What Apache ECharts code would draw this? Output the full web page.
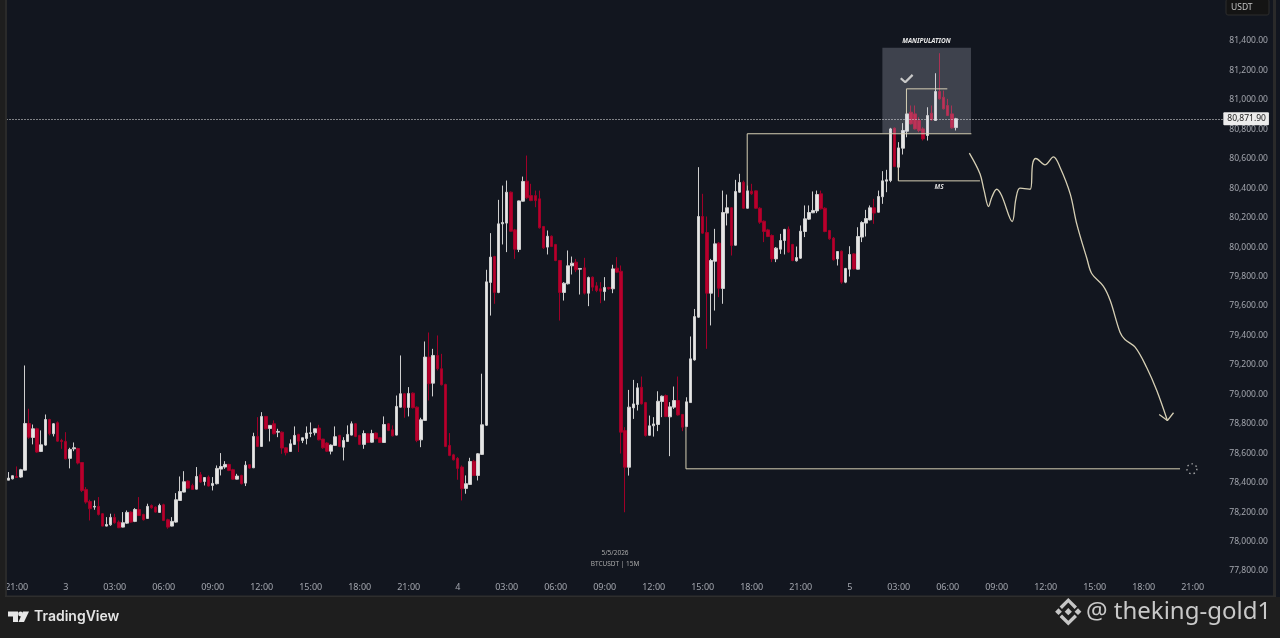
<!DOCTYPE html>
<html><head><meta charset="utf-8">
<style>html,body{margin:0;padding:0;background:#1e1e1e}#c{width:1280px;height:638px}</style>
<script src="https://cdn.jsdelivr.net/npm/echarts@6/dist/echarts.min.js"></script>
</head><body><div id="c"></div>
<script>
const opens=[78417,78426,78442,78438,78485,78802,78707,78766,78612,78655,
78829,78732,78807,78687,78680,78565,78630,78632,78537,78354,
78272,78234,78239,78189,78105,78114,78164,78132,78098,78125,
78200,78137,78218,78184,78157,78245,78234,78198,78250,78148,
78105,78132,78279,78336,78411,78381,78356,78454,78408,78438,
78381,78393,78492,78506,78524,78488,78424,78449,78397,78522,
78501,78714,78646,78850,78768,78800,78743,78743,78637,78612,
78660,78728,78687,78700,78734,78739,78771,78696,78669,78614,
78653,78721,78641,78680,78723,78800,78721,78660,78732,78675,
78737,78705,78673,78800,78759,78723,78913,79004,78911,79008,
78913,78691,78823,79253,79076,79264,79174,79067,78653,78589,
78565,78506,78361,78388,78546,78449,78592,78790,79760,79936,
79692,80158,80163,80373,80117,79984,80312,80448,80350,80350,
80328,80140,80000,80074,80018,79909,79692,79751,79873,79898,
79850,79859,79687,79796,79737,79717,79698,79726,79717,79857,
79836,78754,78505,78908,78931,79048,78944,78722,78786,78795,
78951,78992,78847,78913,78958,78863,78781,78944,79234,79524,
80208,80099,79687,79904,80027,79719,80231,80267,80013,80373,
80441,80264,80380,80382,80264,80176,80117,80079,79920,79986,
80045,80122,80018,79907,79925,80106,80190,80233,80246,80362,
80264,80113,80061,79920,79972,79762,79850,79954,79850,80068,
80163,80185,80267,80237,80342,80448,80452,80808,80543,80672,
80787,80916,80905,80860,80803,80758,80910,80860,81057,81018,
80962,80905,80812];
const closes=[78431,78447,78435,78488,78802,78709,78766,78608,78657,78829,
78732,78800,78682,78680,78562,78626,78637,78533,78347,78268,
78223,78239,78184,78105,78116,78164,78128,78094,78128,78198,
78132,78218,78177,78148,78239,78229,78200,78245,78143,78098,
78137,78284,78340,78406,78363,78354,78442,78404,78435,78377,
78395,78497,78510,78524,78483,78424,78445,78393,78519,78499,
78714,78646,78850,78766,78789,78732,78748,78635,78603,78664,
78721,78682,78705,78737,78739,78766,78691,78637,78614,78655,
78712,78646,78687,78728,78800,78714,78660,78734,78673,78734,
78698,78673,78795,78755,78718,78918,79004,78909,79006,78909,
78687,78827,79253,79072,79264,79174,79065,78646,78585,78555,
78497,78359,78393,78544,78449,78596,78793,79764,79932,79692,
80158,80167,80373,80108,79986,80314,80446,80335,80316,80316,
80131,79995,80074,80004,79909,79692,79755,79873,79891,79846,
79855,79687,79793,79728,79705,79701,79726,79717,79852,79830,
78743,78505,78913,78935,79044,78935,78720,78786,78799,78953,
78987,78849,78915,78958,78860,78777,78949,79241,79528,80208,
80095,79687,79909,80022,79721,80235,80267,80011,80378,80439,
80264,80382,80362,80264,80169,80106,80072,79920,79993,80045,
80120,79966,79909,79929,80108,80192,80235,80249,80357,80260,
80106,80056,79914,79970,79762,79855,79950,79852,80072,80167,
80194,80267,80231,80344,80450,80457,80803,80547,80674,80792,
80905,80837,80803,80792,80735,80894,80864,81057,81007,80939,
80894,80810,80871.9];
const lows=[78417,78422,78435,78433,78483,78698,78660,78603,78608,78651,
78721,78714,78678,78630,78558,78497,78614,78524,78336,78257,
78143,78216,78177,78103,78103,78107,78121,78091,78096,78121,
78128,78132,78173,78143,78155,78223,78196,78196,78139,78087,
78103,78128,78277,78334,78359,78352,78354,78399,78381,78374,
78347,78388,78449,78494,78478,78420,78422,78388,78377,78494,
78499,78641,78646,78761,78680,78728,78709,78596,78585,78608,
78657,78608,78669,78660,78709,78721,78687,78630,78608,78592,
78651,78641,78551,78678,78721,78709,78655,78630,78669,78671,
78694,78669,78671,78750,78714,78721,78911,78841,78850,78904,
78675,78641,78820,78958,78986,79162,79060,78641,78580,78551,
78420,78279,78325,78386,78445,78415,78589,78785,79535,79615,
79687,80018,79966,80104,79920,79966,80310,80328,80312,80271,
80126,79988,79950,80000,79904,79501,79637,79746,79814,79830,
79678,79678,79599,79701,79694,79619,79637,79710,79687,79825,
78598,78199,78448,78833,78890,78931,78713,78720,78713,78750,
78845,78845,78580,78901,78856,78750,78777,78942,79229,79520,
80090,79309,79468,79569,79660,79615,80147,79943,80011,80369,
80260,80262,80355,80260,80158,80034,80068,79898,79898,79954,
79950,79961,79904,79902,79920,80068,80185,80231,80231,80255,
80101,80050,79909,79875,79751,79755,79800,79848,79848,80034,
80072,80181,80158,80235,80294,80373,80441,80543,80452,80629,
80746,80833,80799,80780,80724,80724,80860,80858,81002,80935,
80890,80805,80792];
const highs=[78472,78449,78510,78494,79196,78902,78795,78773,78755,78863,
78834,78805,78816,78698,78743,78637,78673,78637,78540,78370,
78284,78279,78302,78193,78166,78189,78189,78143,78200,78211,
78205,78227,78302,78189,78257,78252,78239,78257,78257,78155,
78166,78329,78442,78478,78415,78393,78506,78472,78438,78449,
78438,78517,78601,78546,78528,78494,78460,78454,78546,78524,
78739,78845,78879,78850,78789,78823,78766,78748,78641,78694,
78782,78732,78705,78782,78809,78766,78793,78698,78675,78660,
78782,78725,78709,78789,78816,78805,78725,78755,78737,78759,
78741,78709,78850,78805,78789,78992,79264,79008,79049,79013,
78918,78841,79359,79420,79309,79400,79275,79072,78737,78596,
78574,78517,78449,78569,78555,78601,79140,79846,80095,79941,
80321,80418,80452,80378,80124,80316,80479,80622,80430,80384,
80384,80144,80113,80079,80022,79913,79762,79977,79936,79920,
79857,79927,79800,79800,79762,79762,79796,79730,79880,79932,
79875,78777,79030,79098,79076,79121,78949,78856,78845,79021,
78992,78999,78947,79053,79121,78867,78980,79393,79580,80543,
80362,80208,79920,80124,80034,80384,80357,80271,80457,80498,
80452,80418,80430,80384,80271,80181,80124,80086,80000,80090,
80124,80140,80022,80004,80147,80283,80283,80378,80384,80384,
80271,80117,80068,79972,79977,79859,80006,79959,80135,80176,
80253,80283,80328,80384,80516,80525,80810,80812,80713,80842,
80928,80962,80962,80882,80814,80950,80962,81181,81317,81063,
81007,80962,80878];
const xTickLabels=['21:00','3','03:00','06:00','09:00','12:00','15:00','18:00','21:00','4','03:00','06:00','09:00','12:00','15:00','18:00','21:00','5','03:00','06:00','09:00','12:00','15:00','18:00','21:00'];
const lastPrice=80871.9;
// hand-drawn forecast path: [bar slot, price]
const forecastPath=[[235.3,80638],[237.9,80498],[238.9,80385],[240.0,80276],[240.8,80339],[242.0,80393],[243.2,80351],[245.8,80174],[246.7,80328],[247.7,80400],[250.2,80393],[250.8,80566],[251.6,80602],[253.8,80559],[255.9,80613],[257.5,80543],[260.0,80362],[261.6,80158],[264.1,79921],[265.3,79819],[268.1,79735],[269.8,79637],[272.2,79422],[273.4,79373],[275.9,79320],[278.7,79184],[281.2,79026],[283.8,78822]];
const arrowHead=[[281.8,78863],[283.8,78822],[285.3,78875]];
const targetLine=[[165.9,78777],[165.9,78494],[286.9,78494]];
const breakLine=[[180.9,80385],[180.9,80770],[235.8,80770]];
const msLine=[[217.9,80568],[217.9,80450],[237.9,80450]];
const innerLine=[[219.9,80908],[219.9,81075],[229.9,81075]];
const checkMark=[[218.5,81147],[219.6,81120],[221.4,81170]];
const boxArea=[[214,81354],[235.7,80774]];
const targetDot=[[289.8,78494]];

const SLOTS=298;
const categories=[];
for(let i=0;i<SLOTS;i++){const k=(i-2)/12;categories.push(Number.isInteger(k)&&xTickLabels[k]?xTickLabels[k]:'');}
const candles=opens.map((o,i)=>[o,closes[i],lows[i],highs[i]]);

const INK='#d6cfb4';
function overlay(data,extra){return Object.assign({type:'line',xAxisIndex:1,yAxisIndex:0,data,symbol:'none',silent:true,animation:false,z:6,lineStyle:{color:INK,width:1}},extra||{});}
function poly(points,fill){return {type:'polygon',z:102,shape:{points},style:{fill:fill||'#c6c6c6'}};}
function diamond(cx,cy,r){return poly([[cx,cy-r],[cx+r,cy],[cx,cy+r],[cx-r,cy]]);}

const chart=echarts.init(document.getElementById('c'),null,{renderer:'canvas'});
chart.setOption({
 animation:false,
 backgroundColor:'#12161f',
 grid:{left:6.5,width:1216.83,top:11.56,height:588.88,containLabel:false},
 xAxis:[
  {type:'category',data:categories,boundaryGap:true,axisLine:{show:false},axisTick:{show:false},splitLine:{show:false},
   axisLabel:{inside:true,margin:8.5,interval:(i)=>(i-2)%12===0,color:'#a3a6ae',fontSize:9,fontFamily:'"Noto Sans",sans-serif',hideOverlap:false,showMinLabel:true,showMaxLabel:true}},
  {type:'value',min:-0.5,max:SLOTS-0.5,show:false,splitLine:{show:false}}
 ],
 yAxis:[{type:'value',position:'right',min:77600,max:81600,interval:200,scale:true,axisLine:{show:false},axisTick:{show:false},splitLine:{show:false},
   axisLabel:{margin:6,padding:[1,0,0,0],color:'#a3a6ae',fontSize:8.5,fontFamily:'"Noto Sans",sans-serif',
    formatter:v=>(v<=77600||v>=81600)?'':v.toLocaleString('en-US',{minimumFractionDigits:2,maximumFractionDigits:2})}}],
 series:[
  {type:'candlestick',data:candles,barWidth:3,large:false,progressive:0,z:2,silent:true,
   itemStyle:{color:'#e6e6e6',color0:'#b8002c',borderColor:'#cfcfcf',borderColor0:'#a00028',borderWidth:1},
   markLine:{silent:true,symbol:'none',animation:false,z:4,
    lineStyle:{color:'#ececec',type:[1,2],width:1},
    label:{show:true,position:'end',distance:0,formatter:lastPrice.toLocaleString('en-US',{minimumFractionDigits:2}),color:'#1a1a1a',backgroundColor:'#ececec',fontSize:8.5,fontFamily:'"Noto Sans",sans-serif',padding:[2,3,2,4],borderRadius:1},
    data:[{yAxis:lastPrice}]}},
  overlay([],{z:5,markArea:{silent:true,animation:false,z:5,itemStyle:{color:'rgba(205,208,225,0.24)'},
    data:[[{coord:boxArea[0]},{coord:boxArea[1]}]]}}),
  overlay(targetLine),overlay(breakLine),overlay(msLine),overlay(innerLine),
  overlay(checkMark,{lineStyle:{color:'#c9c9c9',width:2.2}}),
  overlay(forecastPath,{smooth:0.35,lineStyle:{color:INK,width:1.3}}),
  overlay(arrowHead,{lineStyle:{color:INK,width:1.3}}),
  {type:'scatter',xAxisIndex:1,yAxisIndex:0,data:targetDot,symbol:'circle',symbolSize:10,silent:true,z:6,
   itemStyle:{color:'rgba(0,0,0,0)',borderColor:'#c8c8c8',borderWidth:1.4,borderType:[1.5,3]}}
 ],
 graphic:[
  {type:'rect',z:100,shape:{x:0,y:597,width:1280,height:41},style:{fill:'#1e1e1e'}},
  {type:'rect',z:100,shape:{x:0,y:0,width:5,height:597},style:{fill:'#1e1e1e'}},
  {type:'rect',z:100,shape:{x:5,y:0,width:2,height:597},style:{fill:'#2a2a2a'}},
  {type:'rect',z:100,shape:{x:1273,y:0,width:3,height:597},style:{fill:'#2a2a2a'}},
  {type:'rect',z:100,shape:{x:5,y:595.5,width:1271,height:1.5},style:{fill:'#2e2e2e'}},
  {type:'rect',z:101,shape:{x:1226,y:-1,width:43,height:16,r:2},style:{fill:'#141414',stroke:'#2c2c2c',lineWidth:1}},
  {type:'text',z:102,x:1231,y:3,style:{text:'USDT',fill:'#c4c4c4',fontSize:8.5,fontFamily:'"Noto Sans",sans-serif'}},
  {type:'text',z:102,x:926.5,y:38,style:{text:'MANIPULATION',fill:'#e8e8e8',fontSize:6.5,fontWeight:'bold',fontStyle:'italic',textAlign:'center',fontFamily:'"Noto Sans",sans-serif'}},
  {type:'text',z:102,x:939,y:184,style:{text:'MS',fill:'#d8d8d8',fontSize:6.5,fontWeight:'bold',fontStyle:'italic',textAlign:'center',fontFamily:'"Noto Sans",sans-serif'}},
  {type:'text',z:102,x:615,y:550,style:{text:'5/5/2026',fill:'#a8a8a8',fontSize:6.5,textAlign:'center',fontFamily:'"Noto Sans",sans-serif'}},
  {type:'text',z:102,x:615,y:561,style:{text:'BTCUSDT | 15M',fill:'#a8a8a8',fontSize:6.5,textAlign:'center',fontFamily:'"Noto Sans",sans-serif'}},
  // TradingView mark
  poly([[8,611.5],[18,611.5],[18,622],[13,622],[13,616.5],[8,616.5]],'#e8e8e8'),
  {type:'circle',z:102,shape:{cx:20.5,cy:614,r:2.4},style:{fill:'#e8e8e8'}},
  poly([[23,611.5],[29,611.5],[24,622],[18.5,622]],'#e8e8e8'),
  {type:'text',z:102,x:34,y:610,style:{text:'TradingView',fill:'#e4e4e4',fontSize:14,fontWeight:600,fontFamily:'Inter,"Noto Sans",sans-serif'}},
  // Binance-style mark
  diamond(1068.3,611.7,3.6),diamond(1058.5,611.7,3.4),diamond(1078,611.7,3.4),
  poly([[1068.3,598],[1077,606.5],[1074.6,608.9],[1068.3,602.6],[1062,608.9],[1059.6,606.5]]),
  poly([[1068.3,625.4],[1077,616.9],[1074.6,614.5],[1068.3,620.8],[1062,614.5],[1059.6,616.9]]),
  {type:'text',z:102,x:1086,y:600,style:{text:'@ theking-gold1',fill:'#c9c9c9',fontSize:24,fontFamily:'"Noto Sans",sans-serif'}}
 ]
});
</script></body></html>
